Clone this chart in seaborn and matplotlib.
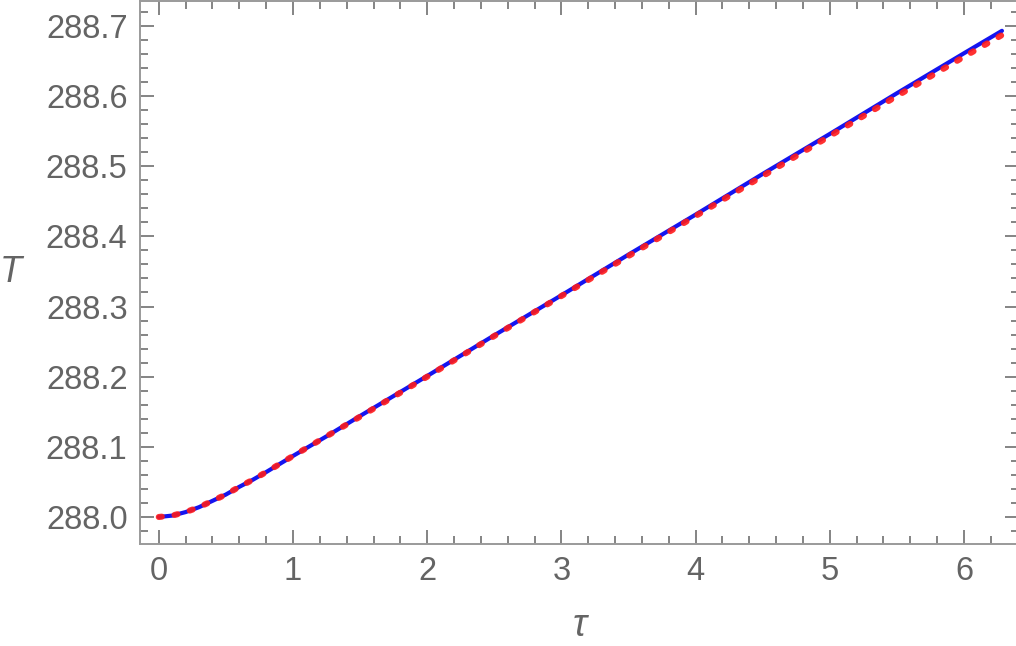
import numpy as np
import pandas as pd
import seaborn as sns
import matplotlib
matplotlib.use("Agg")
from matplotlib import pyplot as plt
from matplotlib.ticker import MultipleLocator

# values
tau = [0.0, 0.1, 0.2, 0.3, 0.4, 0.5, 0.6, 0.7, 0.8, 1.0, 1.25, 1.5, 2.0,
       2.5, 3.0, 3.5, 4.0, 4.5, 5.0, 5.5, 6.0, 6.283]
T_blue = [288.000, 288.002, 288.007, 288.014, 288.023, 288.032, 288.043,
          288.053, 288.064, 288.087, 288.115, 288.144, 288.201, 288.259,
          288.316, 288.374, 288.431, 288.489, 288.546, 288.604, 288.661,
          288.693]
T_red = [288.000, 288.002, 288.007, 288.014, 288.023, 288.032, 288.043,
         288.053, 288.064, 288.087, 288.115, 288.143, 288.200, 288.258,
         288.315, 288.372, 288.429, 288.486, 288.543, 288.600, 288.656,
         288.687]

df = pd.DataFrame({"tau": tau, "blue": T_blue, "red": T_red})

sns.set_style("ticks")
plt.rcParams['font.family'] = ['Liberation Sans', 'DejaVu Sans']

fig = plt.figure(figsize=(10.16, 6.46), dpi=100)
W, H = 1016, 646
ax = fig.add_axes([140 / W, (H - 544) / H, (1019 - 140) / W, (544 - 1) / H])

sns.lineplot(data=df, x="tau", y="blue", ax=ax, color="#1414f0", lw=3.0,
             solid_capstyle="round")
sns.lineplot(data=df, x="tau", y="red", ax=ax, color="#ff1a1a", lw=4.4,
             alpha=0.9)
ax.lines[-1].set_dashes((0.5, 2.1))
ax.lines[-1].set_dash_capstyle("round")

ax.set_xlim(-0.14, 6.41)
ax.set_ylim(287.9615, 288.7355)

ax.xaxis.set_major_locator(MultipleLocator(1))
ax.xaxis.set_minor_locator(MultipleLocator(0.2))
ax.yaxis.set_major_locator(MultipleLocator(0.1))
ax.yaxis.set_minor_locator(MultipleLocator(0.02))
ax.yaxis.set_major_formatter(matplotlib.ticker.FormatStrFormatter("%.1f"))

gray = "#646464"
for s in ax.spines.values():
    s.set_color("#9a9a9a")
    s.set_linewidth(1.4)
ax.tick_params(which="both", direction="in", top=True, right=True,
               color="#707070", width=1.2, labelcolor=gray, labelsize=23.5)
ax.tick_params(which="major", length=10, pad=9)
ax.tick_params(which="minor", length=6)

ax.set_xlabel("τ", fontsize=27, color=gray, labelpad=15,
              fontstyle="italic")
ax.set_ylabel("T", fontsize=26, color=gray, rotation=0, fontstyle="italic",
              ha="center", va="center")
ax.yaxis.set_label_coords(-0.147, 0.5)

fig.savefig("out.png", dpi=100)
